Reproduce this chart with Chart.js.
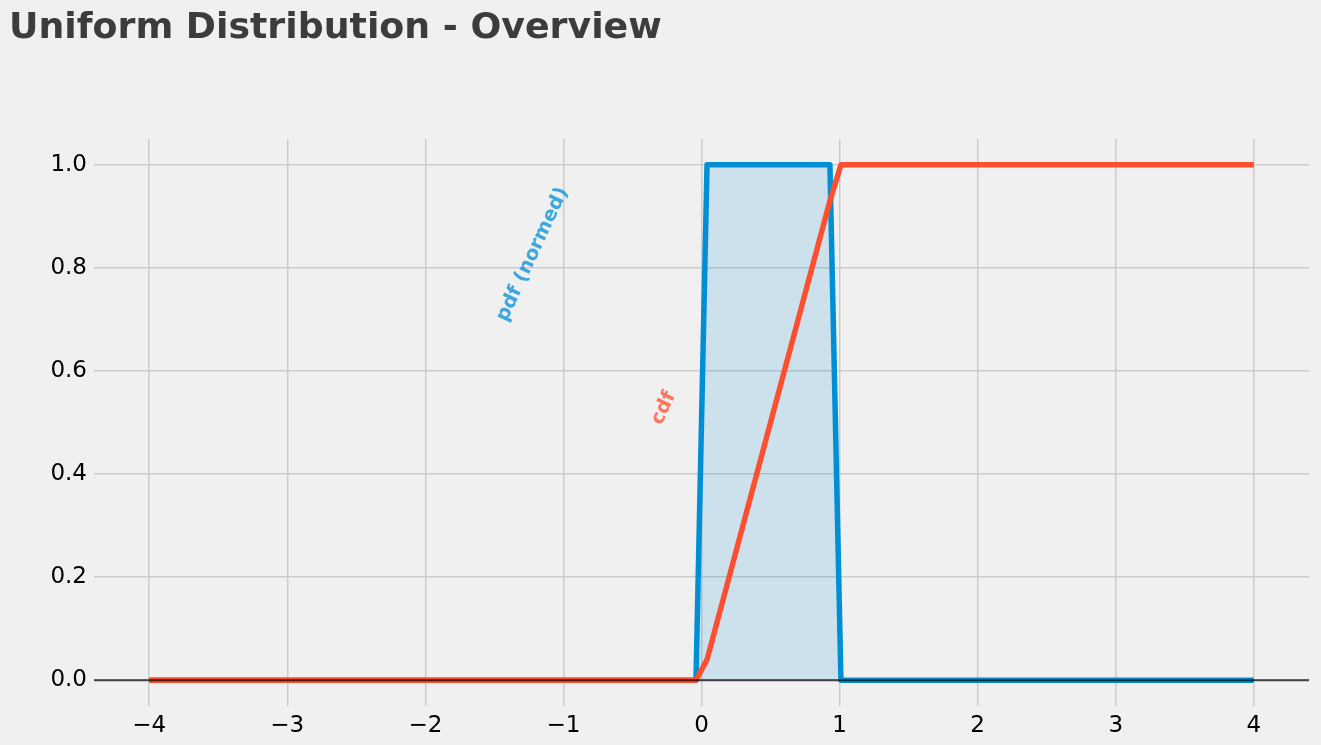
<!DOCTYPE html>
<html>
<head>
<meta charset="utf-8">
<title>Uniform Distribution - Overview</title>
<script src="https://cdn.jsdelivr.net/npm/chart.js@4.4.1/dist/chart.umd.min.js"></script>
<style>
  html, body { margin: 0; padding: 0; background: #f0f0f0; }
  #wrap { position: relative; width: 1321px; height: 745px; }
</style>
</head>
<body>
<div id="wrap"><canvas id="chart" width="1321" height="745"></canvas></div>
<script>
// values
const pdfX = [-4, -0.04, 0.04, 0.93, 1.01, 4];
const pdfY = [0, 0, 1, 1, 0, 0];
const cdfX = [-4, -0.04, 0.04, 0.93, 1.01, 4];
const cdfY = [0, 0, 0.04, 0.93, 1, 1];
const xTicks = [-4, -3, -2, -1, 0, 1, 2, 3, 4];
const yTicks = [0, 0.2, 0.4, 0.6, 0.8, 1.0];
const titleText = 'Uniform Distribution - Overview';
const noteLabels = ['pdf (normed)', 'cdf'];
const noteX = [-1.53, -0.41];
const noteY = [0.69, 0.49];

const BLUE = '#008fd5';
const RED = '#fc4f30';
const FONT = "'DejaVu Sans', sans-serif";

const toPoints = (xs, ys) => xs.map((x, i) => ({ x: x, y: ys[i] }));

// title, rotated notes and the zero line
const extras = {
  id: 'extras',
  afterDatasetsDraw(chart) {
    const { ctx, chartArea, scales } = chart;
    const x = scales.x, y = scales.y;

    // notes: bottom-left of rotated box sits at the data point
    const colors = ['rgba(0,143,213,0.75)', 'rgba(252,79,48,0.75)'];
    const size = 19.5, ang = 65 * Math.PI / 180;
    noteLabels.forEach((txt, i) => {
      const px = x.getPixelForValue(noteX[i]) + size * 1.16 * Math.sin(ang);
      const py = y.getPixelForValue(noteY[i]);
      ctx.save();
      ctx.translate(px, py);
      ctx.rotate(-ang);
      ctx.font = 'bold ' + size + 'px ' + FONT;
      ctx.fillStyle = colors[i];
      ctx.textAlign = 'left';
      ctx.textBaseline = 'bottom';
      ctx.fillText(txt, 0, 0);
      ctx.restore();
    });

    // axhline at 0
    const y0 = y.getPixelForValue(0);
    ctx.save();
    ctx.strokeStyle = 'rgba(0,0,0,0.7)';
    ctx.lineWidth = 2;
    ctx.beginPath();
    ctx.moveTo(chartArea.left, y0);
    ctx.lineTo(chartArea.right, y0);
    ctx.stroke();
    ctx.restore();
  },
  afterDraw(chart) {
    const ctx = chart.ctx;
    ctx.save();
    ctx.font = 'bold 36.3px ' + FONT;
    ctx.fillStyle = '#3c3c3c';
    ctx.textAlign = 'left';
    ctx.textBaseline = 'alphabetic';
    ctx.fillText(titleText, 9, 38);
    ctx.restore();
  }
};

const tickFont = { family: FONT, size: 23 };

new Chart(document.getElementById('chart'), {
  type: 'scatter',
  data: {
    datasets: [
      {
        label: 'cdf',
        data: toPoints(cdfX, cdfY),
        showLine: true,
        borderColor: RED,
        borderWidth: 5.5,
        borderJoinStyle: 'round',
        pointRadius: 0,
        fill: false,
        order: 0
      },
      {
        label: 'pdf',
        data: toPoints(pdfX, pdfY),
        showLine: true,
        borderColor: BLUE,
        backgroundColor: 'rgba(0,143,213,0.15)',
        borderWidth: 5.5,
        borderJoinStyle: 'round',
        pointRadius: 0,
        fill: 'origin',
        order: 1
      }
    ]
  },
  options: {
    responsive: false,
    animation: false,
    devicePixelRatio: 1,
    layout: { padding: { top: 139, right: 12, left: 0, bottom: 0 } },
    plugins: {
      legend: { display: false },
      tooltip: { enabled: false },
      title: { display: false }
    },
    scales: {
      x: {
        type: 'linear',
        min: -4.4,
        max: 4.4,
        afterBuildTicks: (s) => { s.ticks = xTicks.map(v => ({ value: v })); },
        afterFit: (s) => { s.height = 39; },
        grid: { color: '#cbcbcb', lineWidth: 1.5, drawTicks: false },
        border: { display: false },
        ticks: {
          color: '#000',
          font: tickFont,
          padding: 6,
          maxRotation: 0,
          callback: (v) => (v < 0 ? '\u2212' + Math.abs(v) : String(v))
        }
      },
      y: {
        type: 'linear',
        min: -0.05,
        max: 1.05,
        afterBuildTicks: (s) => { s.ticks = yTicks.map(v => ({ value: v })); },
        afterFit: (s) => { s.width = 94; },
        grid: { color: '#cbcbcb', lineWidth: 1.5, drawTicks: false },
        border: { display: false },
        ticks: {
          color: '#000',
          font: tickFont,
          padding: 7,
          callback: (v) => v.toFixed(1)
        }
      }
    }
  },
  plugins: [extras]
});
</script>
</body>
</html>
